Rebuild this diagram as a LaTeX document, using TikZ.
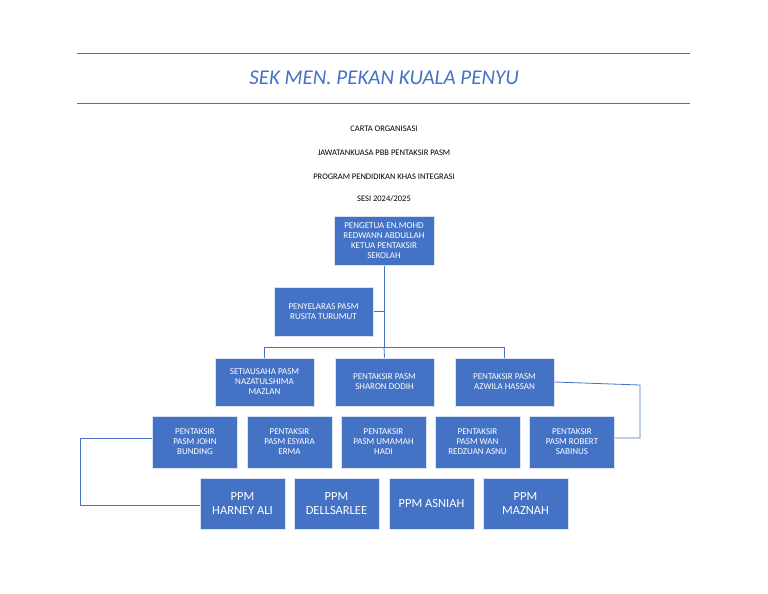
\documentclass[tikz,border=0pt]{standalone}
\usepackage{fontspec}
\setmainfont{Carlito}
\definecolor{bx}{HTML}{4472C4}
\begin{document}
\begin{tikzpicture}[x=1pt,y=-1pt,
  box/.style={draw=white!80!bx,line width=1pt,fill=bx,text=white,inner sep=1pt,align=center,font=\fontsize{9}{10}\selectfont},
  big/.style={box,font=\fontsize{12.5}{14}\selectfont},
  ln/.style={draw=bx,line width=0.8pt},
  hd/.style={font=\fontsize{8.5}{10}\selectfont}]
\useasboundingbox (0,0) rectangle (768,594);
\fill[white] (0,0) rectangle (768,594);
\draw[bx,line width=0.6pt] (77,53) -- (690,53) (77,103) -- (690,103);
\node[text=bx,font=\fontsize{21}{24}\itshape\selectfont] (title) at (384,78) {SEK MEN. PEKAN KUALA PENYU};
\node[hd] (h1) at (384,129) {CARTA ORGANISASI};
\node[hd] (h2) at (384,153) {JAWATANKUASA PBB PENTAKSIR PASM};
\node[hd] (h3) at (384,177) {PROGRAM PENDIDIKAN KHAS INTEGRASI};
\node[hd] (h4) at (384,199) {SESI 2024/2025};
\newcommand{\bxn}[6]{\node[#6,minimum width=#4-#2,minimum height=#5-#3] (#1) at ({(#2+#4)/2},{(#3+#5)/2}) {};}
\node[box,minimum width=100,minimum height=49] (top) at (384,240.5) {PENGETUA EN.MOHD\\REDWANN ABDULLAH\\KETUA PENTAKSIR\\SEKOLAH};
\node[box,minimum width=99,minimum height=49] (pen) at (323.5,311.5) {PENYELARAS PASM\\RUSITA TURUMUT};
\node[box,minimum width=99,minimum height=48] (set) at (264.5,382) {SETIAUSAHA PASM\\NAZATULSHIMA\\MAZLAN};
\node[box,minimum width=99,minimum height=48] (sha) at (384.5,382) {PENTAKSIR PASM\\SHARON DODIH};
\node[box,minimum width=99,minimum height=48] (azw) at (504.5,382) {PENTAKSIR PASM\\AZWILA HASSAN};
\begin{scope}[every node/.append style={font=\fontsize{10}{12}\selectfont,minimum width=85,minimum height=52}]
\node[box] (joh) at (195,442) {PENTAKSIR\\PASM JOHN\\BUNDING};
\node[box] (esy) at (289.5,442) {PENTAKSIR\\PASM ESYARA\\ERMA};
\node[box] (uma) at (383.5,442) {PENTAKSIR\\PASM UMAMAH\\HADI};
\node[box] (wan) at (477.5,442) {PENTAKSIR\\PASM WAN\\REDZUAN ASNU};
\node[box] (rob) at (572,442) {PENTAKSIR\\PASM ROBERT\\SABINUS};
\end{scope}
\begin{scope}[every node/.append style={minimum width=85,minimum height=51}]
\node[big] (har) at (242.5,503.5) {PPM\\HARNEY ALI};
\node[big] (del) at (336.5,503.5) {PPM\\DELLSARLEE};
\node[big] (asn) at (431.5,503.5) {PPM ASNIAH};
\node[big] (maz) at (525.5,503.5) {PPM\\MAZNAH};
\end{scope}
\coordinate (j) at (top.south |- 0,347);
\draw[ln] (top.south) -- (j);
\draw[ln] (pen.east) -- (top.south |- pen.east);
\draw[ln] (set.north) -- (set.north |- j) -- (azw.north |- j) -- (azw.north);
\draw[ln] (j) -- (sha.north);
\draw[ln] (azw.east) -- (640,385) -- (640,438) -- (rob.east |- 0,438);
\draw[ln] (joh.west |- 0,438) -- (80,438) -- (80,505) -- (har.west |- 0,505);
\end{tikzpicture}
\end{document}
